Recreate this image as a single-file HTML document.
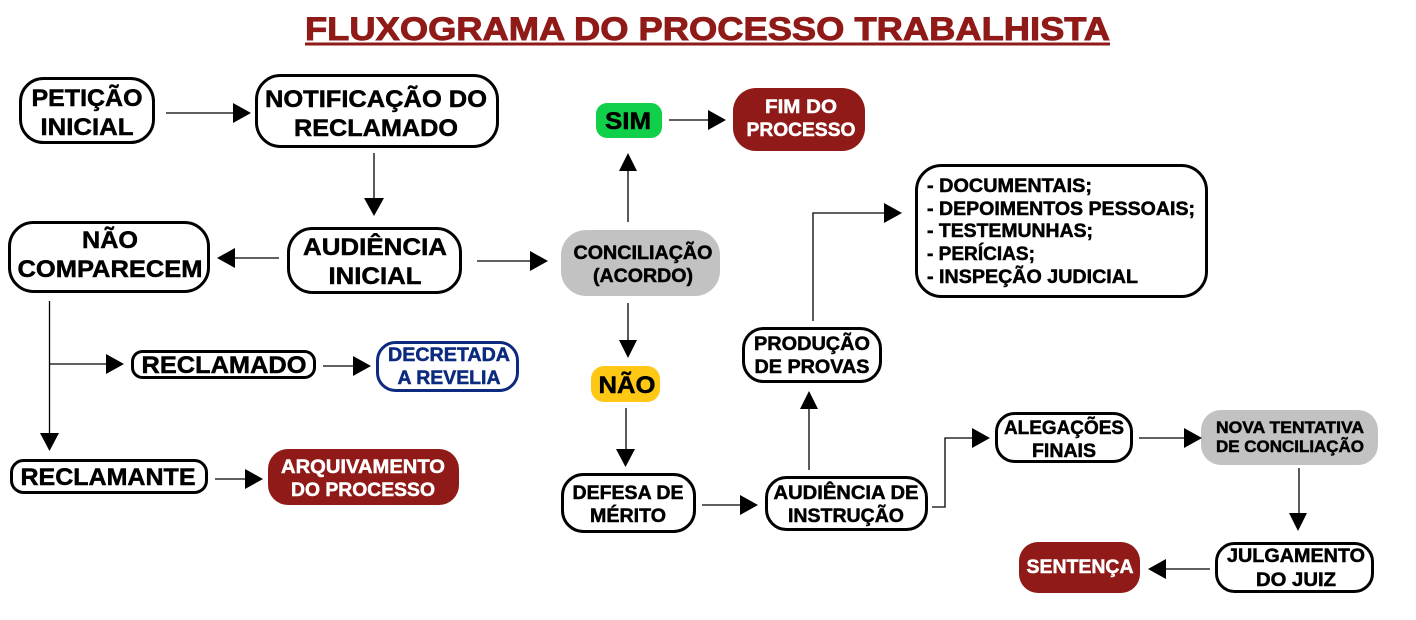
<!DOCTYPE html>
<html lang="pt">
<head>
<meta charset="utf-8">
<title>Fluxograma do Processo Trabalhista</title>
<style>
html,body{margin:0;padding:0;background:#fff;width:1416px;height:620px;overflow:hidden}
svg{display:block}
text{font-family:"Liberation Sans",sans-serif;font-weight:700;text-anchor:middle;fill:#000;stroke:#000;stroke-width:.5}
.w{fill:#fff;stroke:#fff}
.b{fill:#0b2a80;stroke:#0b2a80}
.box{fill:#fff;stroke:#000;stroke-width:3}
.red{fill:#8f1a17}
.gray{fill:#c2c2c2}
.l{fill:none;stroke:#000;stroke-width:1.3}
.s24{font-size:24px}
.s19{font-size:19px}
.s16{font-size:16.5px}
.left{text-anchor:start}
</style>
</head>
<body>
<svg width="1416" height="620" viewBox="0 0 1416 620" xmlns="http://www.w3.org/2000/svg">
<rect width="1416" height="620" fill="#fff"/>

<!-- title -->
<text x="707.5" y="40" font-size="32" textLength="805" lengthAdjust="spacingAndGlyphs" style="fill:#8f1a17;stroke:#8f1a17;stroke-width:.9">FLUXOGRAMA DO PROCESSO TRABALHISTA</text>
<rect x="305" y="42.500" width="805" height="3" fill="#8f1a17"/>

<!-- nodes -->
<rect class="box" x="20.500" y="78.500" width="133" height="64" rx="23"/>
<text class="s24" x="87" y="106" textLength="111" lengthAdjust="spacingAndGlyphs">PETIÇÃO</text>
<text class="s24" x="87" y="135" textLength="93" lengthAdjust="spacingAndGlyphs">INICIAL</text>

<rect class="box" x="256.500" y="75.500" width="241" height="71" rx="24"/>
<text class="s24" x="376" y="107" textLength="222" lengthAdjust="spacingAndGlyphs">NOTIFICAÇÃO DO</text>
<text class="s24" x="376" y="136" textLength="164" lengthAdjust="spacingAndGlyphs">RECLAMADO</text>

<rect class="box" x="9.500" y="222.500" width="199" height="69" rx="24"/>
<text class="s24" x="110" y="248" textLength="56" lengthAdjust="spacingAndGlyphs">NÃO</text>
<text class="s24" x="110" y="277" textLength="185" lengthAdjust="spacingAndGlyphs">COMPARECEM</text>

<rect class="box" x="288.500" y="228.500" width="172" height="64" rx="24"/>
<text class="s24" x="375" y="255" textLength="144" lengthAdjust="spacingAndGlyphs">AUDIÊNCIA</text>
<text class="s24" x="375" y="284" textLength="93" lengthAdjust="spacingAndGlyphs">INICIAL</text>

<rect class="box" x="132.500" y="351.500" width="182" height="26" rx="10"/>
<text class="s24" x="224" y="373" textLength="165" lengthAdjust="spacingAndGlyphs">RECLAMADO</text>

<rect x="377.500" y="342.500" width="140" height="48" rx="18" fill="#fff" stroke="#0b2a80" stroke-width="3"/>
<text class="s19 b" x="449" y="361" textLength="122" lengthAdjust="spacingAndGlyphs">DECRETADA</text>
<text class="s19 b" x="449" y="384" textLength="103" lengthAdjust="spacingAndGlyphs">A REVELIA</text>

<rect class="box" x="11.500" y="460.500" width="195" height="32" rx="12"/>
<text class="s24" x="108" y="485" textLength="175" lengthAdjust="spacingAndGlyphs">RECLAMANTE</text>

<rect class="red" x="268" y="449" width="191" height="56" rx="20"/>
<text class="s19 w" x="363" y="473" textLength="164" lengthAdjust="spacingAndGlyphs">ARQUIVAMENTO</text>
<text class="s19 w" x="363" y="496" textLength="144" lengthAdjust="spacingAndGlyphs">DO PROCESSO</text>

<rect x="596" y="103" width="66" height="35" rx="11" fill="#10cf48"/>
<text class="s24" x="628" y="129" textLength="46" lengthAdjust="spacingAndGlyphs">SIM</text>

<rect class="red" x="733" y="88" width="132" height="63" rx="23"/>
<text class="s19 w" x="801" y="113" textLength="72" lengthAdjust="spacingAndGlyphs">FIM DO</text>
<text class="s19 w" x="801" y="136" textLength="109" lengthAdjust="spacingAndGlyphs">PROCESSO</text>

<rect class="gray" x="561" y="230" width="159" height="66" rx="25"/>
<text class="s19" x="643" y="259" textLength="139" lengthAdjust="spacingAndGlyphs">CONCILIAÇÃO</text>
<text class="s19" x="643" y="282" textLength="100" lengthAdjust="spacingAndGlyphs">(ACORDO)</text>

<rect class="box" x="916.500" y="165.500" width="290" height="131" rx="25"/>
<text class="s19 left" x="927" y="192" textLength="165" lengthAdjust="spacingAndGlyphs">- DOCUMENTAIS;</text>
<text class="s19 left" x="927" y="215" textLength="268" lengthAdjust="spacingAndGlyphs">- DEPOIMENTOS PESSOAIS;</text>
<text class="s19 left" x="927" y="237" textLength="166" lengthAdjust="spacingAndGlyphs">- TESTEMUNHAS;</text>
<text class="s19 left" x="927" y="260" textLength="108" lengthAdjust="spacingAndGlyphs">- PERÍCIAS;</text>
<text class="s19 left" x="927" y="283" textLength="211" lengthAdjust="spacingAndGlyphs">- INSPEÇÃO JUDICIAL</text>

<rect class="box" x="743.500" y="328.500" width="137" height="53" rx="20"/>
<text class="s19" x="812" y="350" textLength="116" lengthAdjust="spacingAndGlyphs">PRODUÇÃO</text>
<text class="s19" x="812" y="373" textLength="115" lengthAdjust="spacingAndGlyphs">DE PROVAS</text>

<rect x="591" y="366" width="69" height="36" rx="13" fill="#ffc815"/>
<text class="s24" x="627" y="393" textLength="57" lengthAdjust="spacingAndGlyphs">NÃO</text>

<rect class="box" x="562.500" y="474.500" width="132" height="57" rx="21"/>
<text class="s19" x="628" y="499" textLength="111" lengthAdjust="spacingAndGlyphs">DEFESA DE</text>
<text class="s19" x="628" y="522" textLength="76" lengthAdjust="spacingAndGlyphs">MÉRITO</text>

<rect class="box" x="766.500" y="477.500" width="160" height="52" rx="20"/>
<text class="s19" x="846" y="499" textLength="145" lengthAdjust="spacingAndGlyphs">AUDIÊNCIA DE</text>
<text class="s19" x="846" y="522" textLength="116" lengthAdjust="spacingAndGlyphs">INSTRUÇÃO</text>

<rect class="box" x="996.500" y="413.500" width="135" height="48" rx="18"/>
<text class="s19" x="1064" y="434" textLength="120" lengthAdjust="spacingAndGlyphs">ALEGAÇÕES</text>
<text class="s19" x="1064" y="457" textLength="64" lengthAdjust="spacingAndGlyphs">FINAIS</text>

<rect class="gray" x="1201" y="410" width="177" height="55" rx="20"/>
<text class="s16" x="1290" y="433" textLength="148" lengthAdjust="spacingAndGlyphs">NOVA TENTATIVA</text>
<text class="s16" x="1290" y="452" textLength="148" lengthAdjust="spacingAndGlyphs">DE CONCILIAÇÃO</text>

<rect class="box" x="1216.500" y="543.500" width="156" height="48" rx="18"/>
<text class="s19" x="1296" y="562" textLength="138" lengthAdjust="spacingAndGlyphs">JULGAMENTO</text>
<text class="s19" x="1296" y="586" textLength="80" lengthAdjust="spacingAndGlyphs">DO JUIZ</text>

<rect class="red" x="1019" y="542" width="121" height="51" rx="19"/>
<text class="s19 w" x="1080" y="573" textLength="107" lengthAdjust="spacingAndGlyphs">SENTENÇA</text>

<!-- connectors -->
<path class="l" d="M166 113H235"/><polygon points="233,103 251,113 233,123"/>
<path class="l" d="M374 153V200"/><polygon points="364,198 384,198 374,216"/>
<path class="l" d="M279 258H233"/><polygon points="235,248 235,268 217,258"/>
<path class="l" d="M477 261H532"/><polygon points="530,251 548,261 530,271"/>
<path class="l" d="M49.500 301V435"/><polygon points="40,433 59,433 49.500,451"/>
<path class="l" d="M50 364H108"/><polygon points="106,354 124,364 106,374"/>
<path class="l" d="M323 366H355"/><polygon points="353,356 371,366 353,376"/>
<path class="l" d="M215 479H247"/><polygon points="245,469 263,479 245,489"/>
<path class="l" d="M628 222V169"/><polygon points="619,171 637,171 628,153"/>
<path class="l" d="M669 120H710"/><polygon points="708,110 726,120 708,130"/>
<path class="l" d="M628 303V342"/><polygon points="619,340 637,340 628,358"/>
<path class="l" d="M813 321V213H886"/><polygon points="884,203 902,213 884,223"/>
<path class="l" d="M809 470V407"/><polygon points="800,409 818,409 809,391"/>
<path class="l" d="M626 408V451"/><polygon points="616,449 635,449 625.500,467"/>
<path class="l" d="M702 505H742"/><polygon points="740,495 758,505 740,515"/>
<path class="l" d="M932 507H945V438H974"/><polygon points="972,428 990,438 972,448"/>
<path class="l" d="M1139 438H1186"/><polygon points="1184,428 1202,438 1184,448"/>
<path class="l" d="M1299 468V515"/><polygon points="1289,513 1307,513 1298,531"/>
<path class="l" d="M1210 569H1164"/><polygon points="1166,559 1166,579 1148,569"/>
</svg>
</body>
</html>
